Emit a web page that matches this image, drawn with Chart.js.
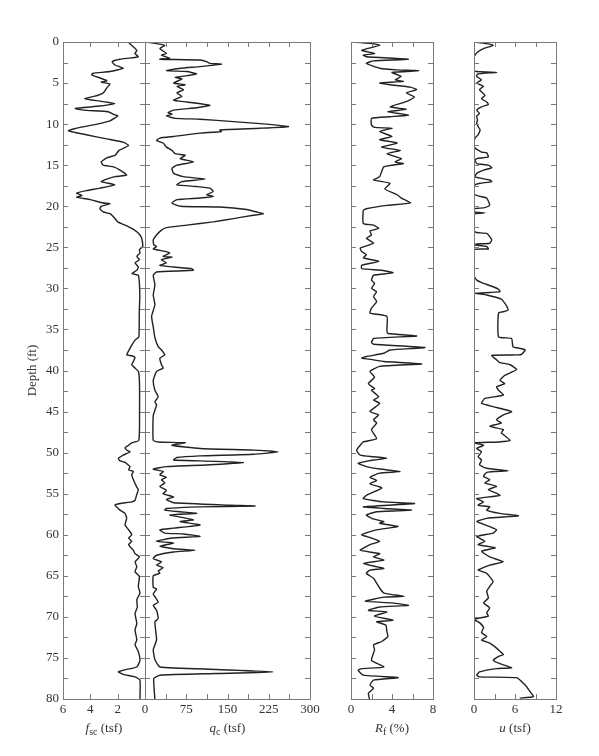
<!DOCTYPE html>
<html>
<head>
<meta charset="utf-8">
<script src="https://cdn.jsdelivr.net/npm/chart.js@4.4.1/dist/chart.umd.min.js"></script>
<style>
  body { margin: 0; background: #fff; }
  #wrap { position: relative; width: 599px; height: 756px; }
  #wrap canvas { position: absolute; left: 0; top: 0; }
</style>
</head>
<body>
<div id="wrap">
  <canvas id="fscChart" width="599" height="756"></canvas>
  <canvas id="qcChart" width="599" height="756"></canvas>
  <canvas id="rfChart" width="599" height="756"></canvas>
  <canvas id="uChart" width="599" height="756"></canvas>
</div>
<script>
// sleeve friction f_sc (tsf) vs depth (ft)
const fscDepth = [0, 1.0, 1.4, 1.8, 2.1, 2.4, 2.8, 3.2, 3.6, 3.8, 4.0, 4.7, 4.9, 5.1, 5.6, 6.2, 6.6, 6.9, 7.2, 7.5, 7.8, 8.1, 8.3, 8.5, 8.8, 9.0, 9.6, 10.0, 10.4, 10.8, 11.3, 11.8, 12.2, 12.6, 13.2, 13.8, 14.1, 14.6, 15.0, 15.2, 15.6, 16.2, 16.4, 16.7, 17.0, 17.4, 17.8, 18.1, 18.4, 18.7, 18.9, 19.2, 19.6, 19.7, 20.0, 20.3, 20.7, 20.9, 21.3, 21.9, 22.3, 22.7, 23.1, 23.5, 23.9, 24.9, 25.3, 25.7, 26.1, 26.5, 26.9, 27.4, 27.8, 28.2, 28.4, 29.4, 31, 33, 35.9, 36.3, 36.9, 37.3, 38.1, 38.2, 38.4, 38.9, 39.3, 39.7, 40.1, 41.2, 45, 48.5, 48.8, 49.1, 49.4, 49.7, 49.9, 50.3, 50.7, 51.0, 51.2, 51.7, 52.1, 52.3, 52.7, 53.3, 54.2, 54.5, 55.1, 55.8, 56.0, 56.2, 56.4, 56.8, 57.0, 57.4, 58.0, 58.8, 59.4, 60.0, 60.4, 60.8, 61.2, 61.9, 62.3, 62.7, 63.3, 63.9, 64.5, 65.1, 66.3, 67.1, 67.9, 68.8, 69.6, 70.8, 71.6, 72.8, 73.4, 74.2, 75.3, 76.1, 76.4, 76.7, 77.0, 77.3, 77.7, 80]
const fscValue = [1.24, 0.6, 0.73, 0.5, 1.83, 2.4, 2.2, 1.6, 2.56, 3.8, 3.9, 2.8, 3.2, 2.56, 2.8, 3.05, 3.66, 4.4, 3.3, 2.2, 3.3, 5.1, 4.5, 2.7, 2.3, 2.0, 2.56, 3.5, 4.75, 5.6, 4.3, 2.8, 1.6, 1.2, 1.9, 2.2, 2.8, 3.2, 3.07, 2.3, 1.83, 1.34, 2.2, 2.8, 3.2, 2.2, 3.3, 4.3, 5.0, 4.6, 5.0, 4.0, 3.07, 2.56, 3.2, 3.3, 3.05, 2.56, 2.3, 2.0, 1.46, 0.97, 0.6, 0.37, 0.24, 0.17, 0.41, 0.37, 0.6, 0.41, 0.73, 0.49, 0.6, 0.97, 0.49, 0.41, 0.38, 0.42, 0.45, 0.73, 0.97, 1.1, 1.34, 0.97, 0.73, 0.85, 0.97, 0.73, 0.49, 0.41, 0.4, 0.45, 0.97, 1.2, 1.46, 1.34, 1.1, 1.59, 1.95, 1.83, 1.46, 1.1, 1.2, 0.85, 0.97, 0.85, 0.6, 0.49, 0.6, 0.73, 0.97, 1.83, 2.2, 1.95, 1.83, 1.46, 1.34, 1.46, 1.2, 0.97, 1.2, 0.97, 1.2, 0.85, 0.73, 0.41, 0.73, 0.6, 0.73, 0.41, 0.49, 0.37, 0.6, 0.56, 0.73, 0.6, 0.73, 0.6, 0.73, 0.49, 0.37, 0.6, 1.34, 1.95, 1.59, 0.73, 0.37, 0.37]

// cone resistance q_c (tsf)
const qcDepth = [0, 0.2, 0.4, 0.8, 1.4, 1.6, 2.0, 2.1, 2.2, 2.4, 2.6, 2.7, 3.0, 3.2, 3.5, 3.6, 3.9, 4.1, 4.3, 4.5, 5.0, 5.2, 5.4, 5.8, 6.2, 6.6, 7.1, 7.3, 7.7, 8.0, 8.3, 8.6, 8.8, 9.0, 9.3, 9.4, 9.7, 10.0, 10.3, 10.5, 10.7, 10.9, 11.1, 11.5, 11.7, 12.0, 12.3, 12.8, 13.2, 13.6, 13.8, 14.2, 14.6, 15.0, 15.4, 16.0, 16.4, 16.7, 17.0, 17.4, 17.6, 17.8, 18.2, 18.6, 18.8, 19.0, 19.2, 19.6, 20.0, 20.1, 20.4, 20.7, 20.9, 21.1, 21.5, 21.9, 22.3, 22.6, 22.9, 23.5, 24.1, 24.7, 24.9, 25.2, 25.5, 25.7, 26.1, 26.2, 26.5, 26.9, 27.2, 27.4, 27.6, 27.8, 28.0, 28.4, 29.6, 30.8, 32.0, 33.4, 34.7, 36.0, 37.1, 37.5, 38.1, 38.5, 39.3, 39.7, 40.1, 41.2, 42.4, 43.2, 43.8, 44.2, 45.5, 48.5, 48.7, 48.8, 49.1, 49.5, 49.7, 49.9, 50.2, 50.4, 50.6, 50.9, 51.0, 51.2, 51.5, 51.7, 52.0, 52.3, 52.7, 53.0, 53.3, 53.7, 54.1, 54.6, 55.0, 55.4, 55.7, 56.1, 56.4, 56.5, 56.6, 56.8, 57.0, 57.2, 57.4, 57.6, 58.0, 58.2, 58.4, 58.8, 59.2, 59.4, 59.8, 59.9, 60.2, 60.4, 60.8, 61.0, 61.4, 61.7, 61.9, 62.1, 62.5, 62.9, 63.3, 63.7, 64.0, 64.4, 64.7, 65.0, 66.4, 66.6, 67.2, 68.2, 68.6, 69.2, 70.2, 70.6, 72.8, 74.0, 75.2, 76.1, 76.4, 76.7, 76.9, 77.1, 77.5, 80]
const qcValue = [3, 21, 36, 27, 39, 30, 45, 27, 100, 112, 118, 139, 100, 64, 39, 76, 94, 76, 55, 67, 52, 73, 58, 70, 58, 67, 52, 76, 118, 94, 52, 42, 49, 39, 55, 100, 161, 221, 261, 209, 136, 139, 100, 52, 27, 21, 33, 39, 49, 55, 73, 64, 88, 58, 49, 52, 70, 109, 67, 58, 94, 118, 124, 112, 124, 100, 58, 49, 64, 136, 185, 203, 215, 197, 161, 124, 76, 39, 30, 21, 15, 16, 21, 15, 36, 45, 33, 49, 30, 39, 27, 52, 85, 88, 21, 15, 18, 15, 18, 12, 15, 18, 24, 30, 36, 27, 30, 33, 21, 15, 18, 24, 18, 21, 15, 15, 24, 73, 49, 100, 197, 242, 197, 100, 58, 52, 100, 179, 112, 39, 15, 33, 27, 39, 30, 36, 27, 39, 33, 52, 39, 52, 155, 200, 100, 39, 36, 64, 94, 45, 76, 88, 64, 100, 52, 27, 36, 70, 100, 49, 21, 52, 27, 52, 91, 52, 21, 15, 30, 21, 33, 24, 27, 15, 15, 21, 15, 24, 15, 21, 24, 18, 21, 15, 18, 27, 130, 233, 130, 27, 16, 18]

// friction ratio R_f (%)
const rfDepth = [0, 0.15, 0.4, 1.0, 1.4, 1.6, 1.8, 2.1, 2.3, 2.6, 3.2, 3.4, 3.5, 3.7, 4.2, 4.6, 4.8, 5.0, 5.2, 5.5, 5.8, 6.2, 6.7, 7.3, 7.9, 8.2, 8.5, 8.9, 9.1, 9.3, 10.1, 10.4, 10.5, 10.9, 11.5, 11.9, 12.3, 12.8, 13.2, 13.6, 14.2, 14.6, 14.8, 15.2, 16.4, 16.8, 17.2, 17.9, 18.6, 19.0, 19.6, 19.9, 20.3, 20.5, 22.1, 22.3, 22.7, 23.0, 23.5, 23.9, 24.5, 25.1, 25.5, 25.9, 26.3, 26.7, 27.2, 27.6, 27.8, 28.1, 28.4, 29.0, 29.4, 30.0, 30.4, 31.0, 31.6, 32.4, 33.0, 33.4, 35.1, 35.5, 35.8, 36.1, 36.6, 36.8, 37.2, 37.5, 37.9, 38.3, 38.5, 38.7, 38.9, 39.2, 39.5, 40.1, 40.8, 41.6, 42.2, 42.4, 43.2, 43.6, 44.0, 45.0, 45.4, 46.0, 46.4, 47.2, 48.3, 48.7, 49.1, 49.7, 50.3, 50.5, 50.7, 50.9, 51.3, 51.7, 52.0, 52.3, 52.5, 53.0, 53.4, 53.8, 54.3, 55.2, 55.6, 56.0, 56.2, 56.6, 56.8, 57.0, 57.2, 57.6, 58.0, 58.4, 58.6, 59.0, 59.4, 60.0, 60.4, 60.8, 61.2, 61.9, 62.3, 62.7, 63.1, 63.5, 64.1, 64.3, 64.7, 65.3, 65.9, 66.5, 67.1, 67.5, 67.6, 68.1, 68.3, 68.6, 68.8, 69.2, 69.4, 69.9, 70.4, 70.6, 71.0, 71.8, 72.4, 73.0, 73.4, 74.0, 75.3, 76.1, 76.3, 76.5, 77.1, 77.4, 77.7, 78.3, 78.7, 79.3, 80]
const rfValue = [0, 1.85, 2.8, 1.04, 2.3, 1.2, 1.5, 5.6, 2.2, 1.5, 2.8, 4.5, 6.6, 4.0, 4.9, 4.3, 5.1, 2.8, 3.8, 5.8, 6.4, 5.4, 6.2, 5.3, 3.8, 5.4, 3.6, 5.6, 3.8, 2.0, 2.0, 2.3, 4.0, 2.8, 4.0, 2.8, 4.5, 3.0, 4.8, 3.5, 4.9, 4.3, 5.1, 3.2, 2.8, 2.2, 3.8, 3.3, 4.5, 4.9, 5.8, 3.5, 1.5, 1.2, 1.2, 2.2, 2.7, 1.85, 2.0, 1.5, 2.2, 0.9, 1.04, 1.5, 1.2, 2.7, 1.04, 1.04, 3.0, 4.1, 2.2, 2.0, 2.3, 2.0, 2.5, 2.2, 2.5, 2.0, 1.85, 3.5, 3.5, 3.6, 6.4, 2.2, 2.0, 2.2, 7.2, 3.8, 3.2, 1.5, 1.04, 2.2, 3.2, 6.9, 2.8, 1.85, 2.3, 1.7, 2.3, 2.0, 2.7, 2.2, 2.8, 1.85, 2.7, 2.2, 2.5, 2.0, 2.5, 1.2, 0.9, 0.55, 0.9, 2.2, 3.5, 2.2, 0.7, 1.5, 2.8, 4.8, 2.8, 1.85, 2.5, 1.85, 3.0, 1.5, 1.2, 3.2, 6.2, 1.2, 3.2, 5.9, 2.5, 1.5, 2.0, 3.2, 2.8, 4.6, 2.5, 1.04, 2.0, 2.8, 1.85, 0.9, 2.8, 2.2, 3.2, 1.2, 3.2, 1.85, 1.5, 2.2, 2.5, 2.8, 3.2, 5.2, 3.2, 1.4, 4.0, 5.6, 2.8, 1.7, 3.5, 2.3, 4.1, 2.5, 3.4, 3.5, 3.6, 3.0, 2.2, 2.3, 2.0, 3.2, 1.04, 0.7, 1.2, 4.6, 2.2, 1.85, 2.2, 1.7, 1.8]

// pore pressure u (tsf)
const uDepth = [0, 0.2, 0.4, 0.8, 1.3, 1.6, 1.8, 3.5, 3.6, 3.7, 3.9, 4.2, 4.6, 5.0, 5.4, 5.8, 6.5, 6.9, 7.3, 7.6, 7.9, 8.3, 8.7, 9.0, 9.5, 9.9, 10.3, 10.7, 11.3, 11.7, 12.3, 12.9, 13.4, 13.5, 14.0, 14.2, 14.4, 14.8, 15.0, 15.3, 15.6, 16.0, 16.4, 16.6, 16.8, 17.0, 17.2, 17.4, 18.4, 18.6, 18.8, 19.0, 19.8, 20.0, 20.2, 20.3, 20.7, 20.8, 21.0, 23.0, 23.2, 23.3, 23.7, 24.1, 24.5, 24.6, 24.7, 24.9, 25.2, 25.3, 28.5, 29.0, 29.4, 29.8, 30.1, 30.4, 30.5, 30.6, 30.8, 31.3, 31.8, 32.2, 32.6, 32.8, 33.0, 35.9, 36.1, 37.1, 37.3, 37.5, 38.0, 38.1, 38.15, 38.7, 39.0, 39.3, 39.9, 40.2, 40.6, 41.2, 41.6, 42.0, 42.4, 43.0, 43.4, 44.0, 44.4, 45.0, 45.4, 46.0, 46.4, 46.8, 47.2, 47.6, 48.5, 48.7, 48.8, 49.1, 49.5, 49.9, 50.5, 50.9, 51.5, 51.9, 52.2, 52.4, 52.9, 53.3, 53.7, 54.1, 54.5, 55.2, 55.6, 56.0, 56.4, 56.6, 57.0, 57.4, 57.7, 58.0, 58.4, 59.0, 59.4, 59.8, 60.2, 60.8, 61.2, 61.6, 62.0, 62.7, 63.3, 63.7, 64.1, 64.3, 64.7, 65.7, 66.3, 66.9, 67.7, 68.3, 68.9, 69.5, 69.9, 70.3, 70.7, 71.3, 71.9, 72.4, 72.8, 73.2, 73.8, 74.2, 74.6, 74.8, 75.3, 75.7, 76.2, 76.3, 76.7, 77.1, 77.3, 77.4, 77.9, 78.5, 79.1, 79.7, 79.9]
const uValue = [0, 1.86, 2.8, 1.37, 0.4, 0.15, 0, 0, 0.4, 3.3, 0.5, 0.4, 1.1, 0.4, 1.37, 0.8, 1.6, 1.1, 1.86, 2.1, 1.1, 0.4, 0.8, 0.4, 0.5, 0.4, 0.6, 0.9, 0.6, 0.15, 0, 0.15, 1.1, 1.86, 2.1, 0.4, 0.15, 0.4, 2.1, 2.6, 1.4, 0.4, 0.15, 1.1, 2.3, 2.6, 0.9, 0.15, 0, 0.15, 0.9, 1.86, 2.3, 2.1, 1.4, 0, 0, 1.6, 0, 0, 0.4, 1.86, 2.3, 2.6, 2.3, 0.4, 0, 1.86, 2.1, 0, 0, 0.4, 1.4, 2.8, 3.6, 3.8, 2.3, 0.2, 1.86, 4.0, 4.5, 4.8, 5.0, 4.5, 3.6, 3.6, 5.5, 5.7, 6.7, 7.5, 7.0, 6.4, 2.6, 3.3, 3.7, 5.3, 6.25, 5.5, 4.5, 3.8, 4.5, 3.3, 3.6, 4.3, 1.6, 1.1, 2.8, 5.5, 4.3, 3.3, 4.0, 2.3, 4.3, 4.0, 5.3, 3.6, 0, 1.4, 0.4, 1.1, 0.6, 1.1, 0.8, 1.86, 5.0, 1.86, 1.4, 2.3, 1.6, 3.3, 2.1, 3.8, 0.4, 1.4, 0.6, 2.3, 1.86, 3.8, 6.5, 1.86, 0.4, 2.3, 3.3, 2.8, 0.4, 1.6, 0.6, 3.1, 1.1, 2.3, 4.3, 2.3, 1.1, 0.6, 1.86, 2.8, 2.3, 1.86, 2.1, 1.4, 2.3, 1.86, 2.1, 0, 0.8, 1.4, 1.1, 1.86, 1.1, 2.3, 3.3, 3.8, 4.3, 3.6, 2.8, 3.8, 5.5, 3.3, 0.8, 0.4, 0.8, 6.25, 7.0, 7.7, 8.2, 8.7, 6.7]

Chart.defaults.font.family = "'Liberation Serif', 'DejaVu Serif', serif"
Chart.defaults.font.size = 13
Chart.defaults.color = '#333'

const W = 599, H = 756
const TOP = 42, BOTTOM = 699, XAXIS_H = 24, TICK = 5
const frameColor = '#7a7a7a'
const lineColor = '#222'

function drawRich(ctx, parts, cx, baseline) {
    const fontFor = p => (p.i ? 'italic ' : '') + (p.sub ? 10 : 13) + "px 'Liberation Serif', serif"
    let w = 0
    parts.forEach(p => { ctx.font = fontFor(p); w += ctx.measureText(p.t).width })
    let xx = cx - w / 2
    ctx.textAlign = 'left'
    ctx.textBaseline = 'alphabetic'
    parts.forEach(p => {
        ctx.font = fontFor(p)
        ctx.fillText(p.t, xx, baseline + (p.sub ? 3 : 0))
        xx += ctx.measureText(p.t).width
    })
}

const panelFrame = {
    id: 'panelFrame',
    afterDraw(chart, args, opts) {
        const {ctx, chartArea: a, scales: {x, y}} = chart
        ctx.save()
        ctx.strokeStyle = frameColor
        ctx.lineWidth = 1
        ctx.strokeRect(a.left + 0.5, a.top + 0.5, a.right - a.left, a.bottom - a.top)
        ctx.beginPath()
        x.ticks.forEach(t => {
            const px = Math.round(x.getPixelForValue(t.value)) + 0.5
            ctx.moveTo(px, a.top); ctx.lineTo(px, a.top + TICK)
            ctx.moveTo(px, a.bottom); ctx.lineTo(px, a.bottom - TICK)
        })
        for (let d = 0; d <= 80; d += 2.5) {
            const py = Math.round(y.getPixelForValue(d)) + 0.5
            ctx.moveTo(a.left, py); ctx.lineTo(a.left + TICK, py)
            ctx.moveTo(a.right, py); ctx.lineTo(a.right - TICK, py)
        }
        ctx.stroke()

        ctx.fillStyle = '#333'
        drawRich(ctx, opts.title, (a.left + a.right) / 2, 732)
        if (opts.depthTitle) {
            ctx.translate(33, (a.top + a.bottom) / 2)
            ctx.rotate(-Math.PI / 2)
            ctx.font = "13px 'Liberation Serif', serif"
            ctx.textAlign = 'center'
            ctx.textBaseline = 'middle'
            ctx.fillText('Depth (ft)', 0, 0)
        }
        ctx.restore()
    }
}

function makePanel(id, o) {
    const yWidth = o.showDepth ? 30 : 0
    return new Chart(document.getElementById(id).getContext('2d'), {
        type: 'scatter',
        data: {
            datasets: [{
                data: o.depth.map((d, i) => ({x: o.values[i], y: d})),
                showLine: true,
                borderColor: lineColor,
                borderWidth: 1.4,
                pointRadius: 0,
                tension: 0.15
            }]
        },
        options: {
            responsive: false,
            animation: false,
            devicePixelRatio: 1,
            events: [],
            layout: {padding: {left: o.left - yWidth, right: W - o.right, top: TOP, bottom: H - BOTTOM - XAXIS_H}},
            plugins: {
                legend: {display: false},
                tooltip: {enabled: false},
                panelFrame: {title: o.title, depthTitle: !!o.showDepth}
            },
            scales: {
                x: {
                    type: 'linear', position: 'bottom',
                    min: o.min, max: o.max, reverse: !!o.reverse,
                    afterFit: s => { s.height = XAXIS_H },
                    grid: {display: false, drawTicks: false},
                    border: {display: false},
                    ticks: {stepSize: o.step, autoSkip: false, maxRotation: 0, minRotation: 0, padding: 3, callback: o.label}
                },
                y: {
                    type: 'linear', min: 0, max: 80, reverse: true,
                    display: !!o.showDepth,
                    afterFit: s => { s.width = yWidth },
                    grid: {display: false, drawTicks: false},
                    border: {display: false},
                    ticks: {stepSize: 2.5, autoSkip: false, padding: 4, callback: v => v % 5 === 0 ? v : ''}
                }
            }
        },
        plugins: [panelFrame]
    })
}

let fscChart = makePanel('fscChart', {
    depth: fscDepth, values: fscValue, left: 63, right: 145, min: 0, max: 6, reverse: true, step: 2,
    label: v => v === 0 ? '' : v, showDepth: true,
    title: [{t: 'f', i: true}, {t: 'sc', sub: true}, {t: ' (tsf)'}]
})
let qcChart = makePanel('qcChart', {
    depth: qcDepth, values: qcValue, left: 145, right: 310, min: 0, max: 300, step: 37.5,
    label: v => v % 75 === 0 ? v : '',
    title: [{t: 'q', i: true}, {t: 'c', sub: true}, {t: ' (tsf)'}]
})
let rfChart = makePanel('rfChart', {
    depth: rfDepth, values: rfValue, left: 351, right: 433, min: 0, max: 8, step: 2,
    label: v => v % 4 === 0 ? v : '',
    title: [{t: 'R', i: true}, {t: 'f', sub: true}, {t: ' (%)'}]
})
let uChart = makePanel('uChart', {
    depth: uDepth, values: uValue, left: 474, right: 556, min: 0, max: 12, step: 3,
    label: v => v % 6 === 0 ? v : '',
    title: [{t: 'u', i: true}, {t: ' (tsf)'}]
})
</script>
</body>
</html>
